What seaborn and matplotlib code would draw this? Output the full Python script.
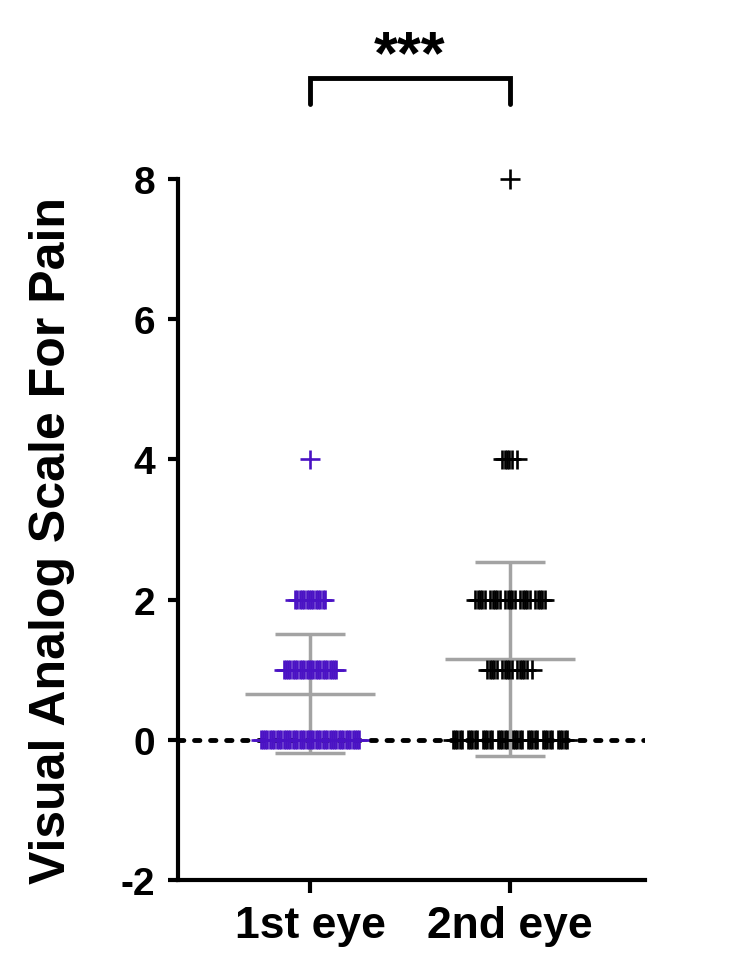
import numpy as np
import pandas as pd
import matplotlib
matplotlib.use("Agg")
import matplotlib.pyplot as plt
import seaborn as sns

# ---------------- data ----------------
groups = ["1st eye", "2nd eye"]
# VAS score levels and how many eyes sit at each level (estimated)
levels_1st = [0, 1, 2, 4]
counts_1st = [44, 24, 14, 1]
levels_2nd = [0, 1, 2, 4, 8]
counts_2nd = [40, 16, 25, 6, 1]
# mean and SD as drawn by the error bars
mean_vals = [0.66, 1.15]
sd_vals = [0.85, 1.38]
yticks = [-2, 0, 2, 4, 6, 8]
ylabel = "Visual Analog Scale For Pain"
sig_label = "***"
colors = {"1st eye": "#4a12c4", "2nd eye": "#000000"}

# ---------------- style ----------------
sns.set_style("ticks")
plt.rcParams["font.family"] = ["Liberation Sans", "DejaVu Sans"]
plt.rcParams["font.weight"] = "bold"

W, H, DPI = 7.56, 9.62, 100
fig = plt.figure(figsize=(W, H), dpi=DPI)
ax_rect = [0.2354, 0.0842, 0.6177, 0.7287]
ax = fig.add_axes(ax_rect)
xlim = (-0.66, 1.675)
ax.set_xlim(*xlim)
ax.set_ylim(-2, 8)

px_per_unit = W * DPI * ax_rect[2] / (xlim[1] - xlim[0])


def offsets(n, cluster, step_px, pitch_px):
    idx = np.arange(n)
    pos = (idx // cluster) * pitch_px + (idx % cluster) * step_px
    pos = pos - (pos.min() + pos.max()) / 2.0
    return pos / px_per_unit


rows = []
for gi, (g, levels, counts) in enumerate(
        [("1st eye", levels_1st, counts_1st), ("2nd eye", levels_2nd, counts_2nd)]):
    for lv, n in zip(levels, counts):
        if g == "1st eye":
            off = offsets(n, n, 2.3, 0)
        else:
            off = offsets(n, 5, 2.3, 15)
        for o in off:
            rows.append({"eye": g, "value": lv, "xpos": gi + o})
df = pd.DataFrame(rows)

# zero reference line
ax.axhline(0, color="#000000", lw=3.5, linestyle=(0, (1.1, 2.2)),
           dash_capstyle="round", zorder=1)

# mean +/- SD (grey)
for gi, (m, s) in enumerate(zip(mean_vals, sd_vals)):
    ax.vlines(gi, m - s, m + s, color="#a3a3a3", lw=2.5, zorder=2)
    ax.hlines(m, gi - 0.325, gi + 0.325, color="#a3a3a3", lw=2.5, zorder=2)
    ax.hlines([m - s, m + s], gi - 0.175, gi + 0.175, color="#a3a3a3",
              lw=2.5, zorder=2)

sns.scatterplot(data=df, x="xpos", y="value", hue="eye", palette=colors,
                marker="+", s=190, linewidth=1.9, legend=False, ax=ax,
                zorder=3)
for coll in ax.collections:
    coll.set_clip_on(False)

# axes styling
sns.despine(ax=ax)
for sp in ("left", "bottom"):
    ax.spines[sp].set_linewidth(3)
    ax.spines[sp].set_color("#000000")
ax.set_xticks([0, 1])
ax.set_xticklabels(groups)
ax.set_yticks(yticks)
ax.set_yticklabels([str(t) for t in yticks])
ax.tick_params(axis="y", length=7.5, width=3, labelsize=28, pad=9,
               colors="#000000")
ax.tick_params(axis="x", length=9, width=3, labelsize=32, pad=9,
               colors="#000000")
ax.set_xlabel("")
ax.set_ylabel(ylabel, fontsize=36, fontweight="bold", color="#000000")
ax.yaxis.label.set_va("center")
ax.yaxis.set_label_coords((52 - 178) / (W * DPI * ax_rect[2]), 0.486)

# significance bracket
ax.plot([0, 0, 1, 1], [9.07, 9.44, 9.44, 9.07], color="#000000", lw=3.5,
        clip_on=False, solid_joinstyle="miter")
ax.text(0.5, 9.52, sig_label, ha="center", va="baseline", fontsize=44,
        fontweight="bold", color="#000000", clip_on=False)

fig.savefig("out.png", dpi=DPI, facecolor="white")
